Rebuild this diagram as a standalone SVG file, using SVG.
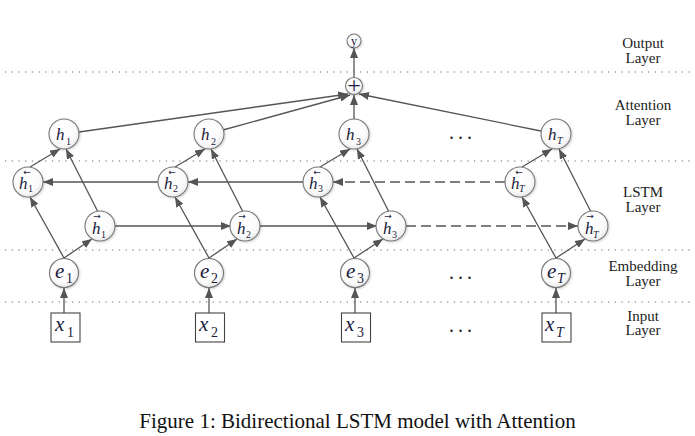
<svg xmlns="http://www.w3.org/2000/svg" width="695" height="436" viewBox="0 0 695 436">
<style>
.dot{stroke:#666;stroke-width:1.2;stroke-dasharray:1.2,5.5;fill:none}
.ln{stroke:#555;stroke-width:1.3;fill:none}
.dash{stroke-dasharray:10,5}
.nd{fill:url(#g);stroke:#777;stroke-width:1.1;filter:url(#sh)}
.bx{fill:#fff;stroke:#444;stroke-width:1.1}
.m{font-family:"Liberation Serif",serif;font-style:italic;fill:#1c1c40}
.s{font-family:"Liberation Serif",serif;fill:#1c1c40}
.acc{font-family:"DejaVu Sans",sans-serif;font-size:9px;fill:#1c1c40;text-anchor:middle}
.lab{font-family:"Liberation Serif",serif;font-size:15px;fill:#222;text-anchor:middle}
.ell{font-family:"Liberation Serif",serif;font-size:20px;fill:#222;letter-spacing:4px}
</style>
<defs>
<radialGradient id="g" cx="0.45" cy="0.4" r="0.6">
<stop offset="0" stop-color="#ffffff"/>
<stop offset="0.7" stop-color="#fbfbfb"/>
<stop offset="1" stop-color="#eaeaea"/>
</radialGradient>
<filter id="sh" x="-30%" y="-30%" width="160%" height="160%">
<feDropShadow dx="1" dy="1" stdDeviation="0.8" flood-color="#000" flood-opacity="0.18"/>
</filter>
<marker id="a" markerUnits="userSpaceOnUse" markerWidth="10" markerHeight="8" refX="10" refY="4" orient="auto">
<path d="M0,0 L10,4 L0,8 z" fill="#555"/>
</marker>
</defs>

<g id="layer-separators">
<line class="dot" x1="5" y1="72" x2="690" y2="72"/>
<line class="dot" x1="5" y1="161" x2="690" y2="161"/>
<line class="dot" x1="5" y1="250" x2="690" y2="250"/>
<line class="dot" x1="5" y1="302" x2="690" y2="302"/>
</g>

<g id="connectors">
<!-- input to embedding -->
<line class="ln" x1="64" y1="313" x2="64" y2="288" marker-end="url(#a)"/>
<line class="ln" x1="209" y1="313" x2="209" y2="288" marker-end="url(#a)"/>
<line class="ln" x1="355" y1="313" x2="355" y2="288" marker-end="url(#a)"/>
<line class="ln" x1="556" y1="313" x2="556" y2="288" marker-end="url(#a)"/>
<!-- embedding to backward -->
<line class="ln" x1="64" y1="258" x2="30" y2="197" marker-end="url(#a)"/>
<line class="ln" x1="209" y1="258" x2="175" y2="197" marker-end="url(#a)"/>
<line class="ln" x1="354" y1="258" x2="320" y2="197" marker-end="url(#a)"/>
<line class="ln" x1="556" y1="258" x2="522" y2="197" marker-end="url(#a)"/>
<!-- embedding to forward -->
<line class="ln" x1="64" y1="258" x2="92" y2="239" marker-end="url(#a)"/>
<line class="ln" x1="209" y1="258" x2="237" y2="239" marker-end="url(#a)"/>
<line class="ln" x1="354" y1="258" x2="383" y2="239" marker-end="url(#a)"/>
<line class="ln" x1="556" y1="258" x2="585" y2="239" marker-end="url(#a)"/>
<!-- backward chain -->
<line class="ln" x1="158" y1="182" x2="43" y2="182" marker-end="url(#a)"/>
<line class="ln" x1="303" y1="182" x2="188" y2="182" marker-end="url(#a)"/>
<line class="ln dash" x1="505" y1="182" x2="333" y2="182" marker-end="url(#a)"/>
<!-- forward chain -->
<line class="ln" x1="115" y1="226" x2="231" y2="226" marker-end="url(#a)"/>
<line class="ln" x1="260" y1="226" x2="377" y2="226" marker-end="url(#a)"/>
<line class="ln dash" x1="406" y1="226" x2="578" y2="226" marker-end="url(#a)"/>
<!-- backward to attention -->
<line class="ln" x1="30" y1="167" x2="60" y2="149" marker-end="url(#a)"/>
<line class="ln" x1="175" y1="167" x2="205" y2="149" marker-end="url(#a)"/>
<line class="ln" x1="320" y1="167" x2="350" y2="149" marker-end="url(#a)"/>
<line class="ln" x1="522" y1="167" x2="552" y2="149" marker-end="url(#a)"/>
<!-- forward to attention -->
<line class="ln" x1="98" y1="212" x2="66" y2="149" marker-end="url(#a)"/>
<line class="ln" x1="243" y1="212" x2="211" y2="149" marker-end="url(#a)"/>
<line class="ln" x1="389" y1="212" x2="357" y2="149" marker-end="url(#a)"/>
<line class="ln" x1="591" y1="212" x2="559" y2="149" marker-end="url(#a)"/>
<!-- attention to sum -->
<line class="ln" x1="79" y1="132" x2="348" y2="94" marker-end="url(#a)"/>
<line class="ln" x1="223" y1="130" x2="350" y2="95" marker-end="url(#a)"/>
<line class="ln" x1="354" y1="119" x2="354" y2="95" marker-end="url(#a)"/>
<line class="ln" x1="541" y1="131" x2="359" y2="94" marker-end="url(#a)"/>
<!-- sum to output -->
<line class="ln" x1="354" y1="77" x2="354" y2="48" marker-end="url(#a)"/>
</g>

<g id="node-y">
<circle class="nd" cx="354" cy="41" r="7"/>
<text class="s" x="354" y="45" font-size="12" text-anchor="middle">y</text>
</g>
<g id="node-sum">
<circle class="nd" cx="354" cy="86" r="8.5"/>
<text class="s" x="354" y="93" font-size="24" text-anchor="middle" fill="#222">+</text>
</g>

<g id="node-h1">
<circle class="nd" cx="64" cy="134" r="15"/>
<text class="m" x="56" y="140" font-size="17">h</text><text class="s" x="66" y="145" font-size="10">1</text>
</g>
<g id="node-h2">
<circle class="nd" cx="209" cy="134" r="15"/>
<text class="m" x="201" y="140" font-size="17">h</text><text class="s" x="211" y="145" font-size="10">2</text>
</g>
<g id="node-h3">
<circle class="nd" cx="354" cy="134" r="15"/>
<text class="m" x="346" y="140" font-size="17">h</text><text class="s" x="356" y="145" font-size="10">3</text>
</g>
<g id="node-hT">
<circle class="nd" cx="556" cy="134" r="15"/>
<text class="m" x="548" y="140" font-size="17">h</text><text class="m" x="557" y="144" font-size="10">T</text>
</g>
<text class="ell" x="449" y="139">...</text>

<g id="node-hb1">
<circle class="nd" cx="28" cy="182" r="15"/>
<text class="acc" x="27" y="175">←</text>
<text class="m" x="19" y="189" font-size="17">h</text><text class="s" x="28" y="192" font-size="10">1</text>
</g>
<g id="node-hb2">
<circle class="nd" cx="173" cy="182" r="15"/>
<text class="acc" x="172" y="175">←</text>
<text class="m" x="164" y="189" font-size="17">h</text><text class="s" x="173" y="192" font-size="10">2</text>
</g>
<g id="node-hb3">
<circle class="nd" cx="318" cy="182" r="15"/>
<text class="acc" x="317" y="175">←</text>
<text class="m" x="309" y="189" font-size="17">h</text><text class="s" x="318" y="192" font-size="10">3</text>
</g>
<g id="node-hbT">
<circle class="nd" cx="520" cy="182" r="15"/>
<text class="acc" x="519" y="175">←</text>
<text class="m" x="511" y="189" font-size="17">h</text><text class="m" x="519" y="192" font-size="10">T</text>
</g>

<g id="node-hf1">
<circle class="nd" cx="100" cy="226" r="15"/>
<text class="acc" x="97" y="219">→</text>
<text class="m" x="92" y="234" font-size="17">h</text><text class="s" x="101" y="238" font-size="10">1</text>
</g>
<g id="node-hf2">
<circle class="nd" cx="245" cy="226" r="15"/>
<text class="acc" x="242" y="219">→</text>
<text class="m" x="237" y="234" font-size="17">h</text><text class="s" x="246" y="238" font-size="10">2</text>
</g>
<g id="node-hf3">
<circle class="nd" cx="391" cy="226" r="15"/>
<text class="acc" x="388" y="219">→</text>
<text class="m" x="383" y="234" font-size="17">h</text><text class="s" x="392" y="238" font-size="10">3</text>
</g>
<g id="node-hfT">
<circle class="nd" cx="593" cy="226" r="15"/>
<text class="acc" x="590" y="219">→</text>
<text class="m" x="585" y="234" font-size="17">h</text><text class="m" x="593" y="238" font-size="10">T</text>
</g>

<g id="node-e1">
<circle class="nd" cx="64" cy="273" r="14.5"/>
<text class="m" x="55" y="278" font-size="21">e</text><text class="s" x="66" y="283" font-size="14">1</text>
</g>
<g id="node-e2">
<circle class="nd" cx="209" cy="273" r="14.5"/>
<text class="m" x="200" y="278" font-size="21">e</text><text class="s" x="211" y="283" font-size="14">2</text>
</g>
<g id="node-e3">
<circle class="nd" cx="355" cy="273" r="14.5"/>
<text class="m" x="346" y="278" font-size="21">e</text><text class="s" x="357" y="283" font-size="14">3</text>
</g>
<g id="node-eT">
<circle class="nd" cx="556" cy="273" r="14.5"/>
<text class="m" x="547" y="278" font-size="21">e</text><text class="m" x="557" y="283" font-size="14">T</text>
</g>
<text class="ell" x="449" y="279">...</text>

<g id="node-x1">
<rect class="bx" x="51" y="313" width="29" height="29"/>
<text class="m" x="55" y="331" font-size="21">x</text><text class="s" x="67" y="337" font-size="14">1</text>
</g>
<g id="node-x2">
<rect class="bx" x="195.5" y="313" width="29" height="29"/>
<text class="m" x="199" y="331" font-size="21">x</text><text class="s" x="211" y="337" font-size="14">2</text>
</g>
<g id="node-x3">
<rect class="bx" x="341.5" y="313" width="29" height="29"/>
<text class="m" x="345" y="331" font-size="21">x</text><text class="s" x="357" y="337" font-size="14">3</text>
</g>
<g id="node-xT">
<rect class="bx" x="542" y="313" width="29" height="29"/>
<text class="m" x="545" y="331" font-size="21">x</text><text class="m" x="556" y="337" font-size="14">T</text>
</g>
<text class="ell" x="449" y="332">...</text>

<g id="layer-labels">
<text class="lab" x="643" y="48">Output</text>
<text class="lab" x="643" y="63">Layer</text>
<text class="lab" x="643" y="110">Attention</text>
<text class="lab" x="643" y="125">Layer</text>
<text class="lab" x="643" y="197">LSTM</text>
<text class="lab" x="643" y="212">Layer</text>
<text class="lab" x="643" y="271">Embedding</text>
<text class="lab" x="643" y="286">Layer</text>
<text class="lab" x="643" y="321">Input</text>
<text class="lab" x="643" y="335">Layer</text>
</g>

<text id="caption" x="357.5" y="428" font-family="Liberation Serif, serif" font-size="21" fill="#111" text-anchor="middle">Figure 1: Bidirectional LSTM model with Attention</text>
</svg>
